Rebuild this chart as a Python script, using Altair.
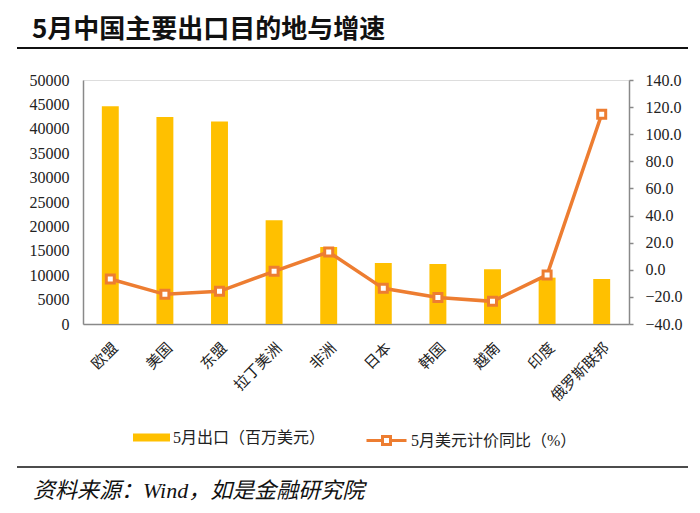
import altair as alt
import pandas as pd

categories = ["欧盟", "美国", "东盟", "拉丁美洲", "非洲", "日本", "韩国", "越南", "印度", "俄罗斯联邦"]
exports = [44600, 42400, 41500, 21250, 15800, 12500, 12300, 11200, 9500, 9200]
yoy = [-6.8, -18.1, -15.9, -1.1, 13.1, -13.7, -20.5, -23.3, -3.8, 114.7]

bar_name = "5月出口（百万美元）"
line_name = "5月美元计价同比（%）"
title_text = "5月中国主要出口目的地与增速"
source_text = "资料来源：Wind，如是金融研究院"

left_ticks = list(range(0, 50001, 5000))
right_ticks = list(range(-40, 141, 20))

df = pd.DataFrame({"cat": categories, "exports": exports, "yoy": yoy,
                   "s1": bar_name, "s2": line_name})

FONT = "Liberation Serif, Noto Sans CJK SC"
BAR_C = "#FFC000"
LINE_C = "#ED7D31"
AXIS_C = "#898989"

x_enc = alt.X("cat:N", sort=categories, title=None,
              scale=alt.Scale(paddingInner=0.69, paddingOuter=0.345),
              axis=alt.Axis(labelAngle=-45, labelFont=FONT, labelFontSize=15,
                            labelColor="#222", ticks=False, labelPadding=16,
                            domainColor=AXIS_C, domainWidth=1.5))

bars = alt.Chart(df).mark_bar(color=BAR_C).encode(
    x=x_enc,
    y=alt.Y("exports:Q", title=None,
            scale=alt.Scale(domain=[0, 50000], nice=False),
            axis=alt.Axis(values=left_ticks, format="d", ticks=False, grid=False,
                          labelFont=FONT, labelFontSize=16, labelColor="#222",
                          labelOverlap=False, labelFlush=False,
                          labelPadding=14, domainColor=AXIS_C, domainWidth=1.5)),
    color=alt.Color("s1:N", scale=alt.Scale(domain=[bar_name], range=[BAR_C]),
                    legend=alt.Legend(title=None, orient="none", legendX=50, legendY=339,
                                      symbolType="M-1,-0.216L1,-0.216L1,0.216L-1,0.216Z",
                                      symbolSize=1369, symbolStrokeWidth=0,
                                      labelFont=FONT, labelFontSize=16, labelColor="#222",
                                      labelOffset=3, labelLimit=400, padding=0)),
)

y_right = alt.Y("yoy:Q", title=None,
                scale=alt.Scale(domain=[-40, 140], nice=False),
                axis=alt.Axis(orient="right", values=right_ticks, format=".1f", grid=False,
                              ticks=True, tickSize=4, tickColor=AXIS_C, tickWidth=1.5,
                              labelOverlap=False, labelFlush=False,
                              labelFont=FONT, labelFontSize=16, labelColor="#222",
                              labelPadding=12, domainColor=AXIS_C, domainWidth=1.5))

line = alt.Chart(df).mark_line(strokeWidth=3.5).encode(
    x=alt.X("cat:N", sort=categories),
    y=y_right,
    stroke=alt.Stroke("s2:N", scale=alt.Scale(domain=[line_name], range=[LINE_C]),
                      legend=alt.Legend(title=None, orient="none", legendX=282, legendY=339,
                                        symbolType="M-1,0L-0.2,0M0.2,0L1,0M-0.2,-0.2L0.2,-0.2L0.2,0.2L-0.2,0.2Z",
                                        symbolSize=1600, symbolStrokeWidth=3,
                                        symbolFillColor="white",
                                        labelFont=FONT, labelFontSize=16, labelColor="#222",
                                        labelOffset=3, labelLimit=400, padding=0)),
)

points = alt.Chart(df).mark_point(shape="square", filled=True, fill="white",
                                  stroke=LINE_C, strokeWidth=3, size=64, opacity=1).encode(
    x=alt.X("cat:N", sort=categories),
    y=y_right,
)

one = pd.DataFrame({"t": [title_text]})
title = alt.Chart(one).mark_text(align="left", baseline="alphabetic", fontSize=26,
                                 fontWeight="bold", font="Noto Sans CJK SC",
                                 color="#111").encode(
    text="t:N", x=alt.value(-51), y=alt.value(-42))

rule_top = alt.Chart(one).mark_rule(color="#111", strokeWidth=2).encode(
    x=alt.value(-66), x2=alt.value(605), y=alt.value(-32))
rule_bot = alt.Chart(one).mark_rule(color="#111", strokeWidth=1.5).encode(
    x=alt.value(-66), x2=alt.value(605), y=alt.value(387))

src = pd.DataFrame({"t": [source_text]})
source = alt.Chart(src).mark_text(align="left", baseline="middle", fontSize=22,
                                  fontStyle="italic", font=FONT, color="#111").encode(
    text="t:N", x=alt.value(-50), y=alt.value(411))

left_layer = bars
right_layer = alt.layer(line, points)

chart = alt.layer(left_layer, right_layer, title, rule_top, rule_bot, source).resolve_scale(
    y="independent", color="independent", stroke="independent"
).properties(
    width=546, height=244,
    autosize=alt.AutoSizeParams(type="none"),
    padding={"left": 75, "top": 72, "right": 60, "bottom": 178},
).configure_view(stroke=None).configure(background="white")

chart.save("out.html", embed_options={"renderer": "svg", "actions": False})
